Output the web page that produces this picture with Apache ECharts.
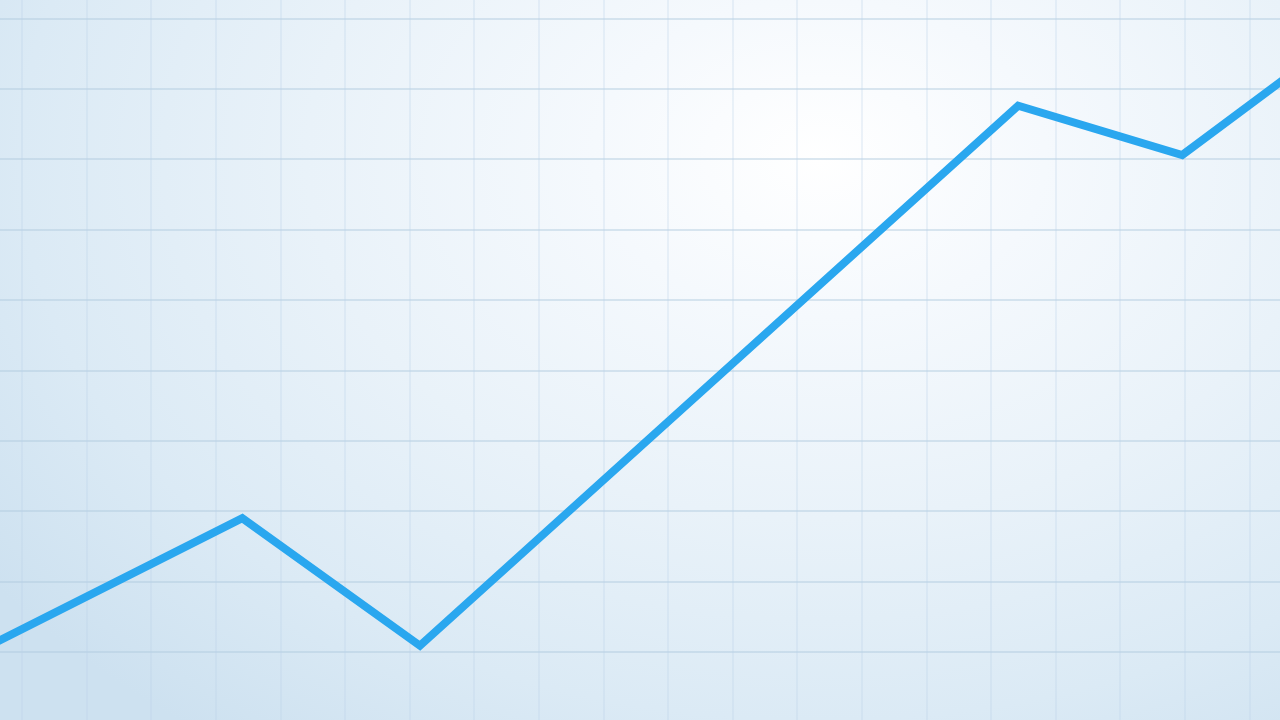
<!DOCTYPE html>
<html>
<head>
<meta charset="utf-8">
<script src="https://cdn.jsdelivr.net/npm/echarts@6/dist/echarts.min.js"></script>
<style>
html,body{margin:0;padding:0;width:1280px;height:720px;overflow:hidden;}
#chart{width:1280px;height:720px;
background:radial-gradient(ellipse 80% 100% at 64% 22%, #ffffff 0%, #f5f9fd 22%, #e9f2f9 50%, #dbeaf5 78%, #cde1f0 100%);}
</style>
</head>
<body>
<div id="chart"></div>
<script>
// x positions (grid units) and values of the trend line
var xValues = [0.58, 4.41, 7.16, 16.42, 18.96, 20.63];
var yValues = [1.13, 2.90, 1.09, 8.76, 8.06, 9.20];

var chart = echarts.init(document.getElementById('chart'), null, {renderer:'canvas'});
var points = xValues.map(function(x,i){ return [x, yValues[i]]; });

chart.setOption({
  backgroundColor: 'transparent',
  animation: false,
  grid: { left: -42.6, right: -34, top: -52, bottom: -2.4, containLabel: false, outerBoundsMode: 'none' },
  xAxis: {
    type: 'value', min: 0, max: 21, interval: 1,
    axisLine: {show:false}, axisTick: {show:false}, axisLabel: {show:false},
    splitLine: { show: true, lineStyle: { color: 'rgba(185,210,228,0.35)', width: 1.5 } }
  },
  yAxis: {
    type: 'value', min: 0, max: 11, interval: 1,
    axisLine: {show:false}, axisTick: {show:false}, axisLabel: {show:false},
    splitLine: { show: true, lineStyle: { color: 'rgba(175,202,222,0.45)', width: 2 } }
  },
  series: [{
    type: 'line',
    data: points,
    symbol: 'none',
    clip: false,
    lineStyle: { color: '#2aa7ef', width: 8, join: 'miter', cap: 'butt' }
  }]
});
</script>
</body>
</html>
